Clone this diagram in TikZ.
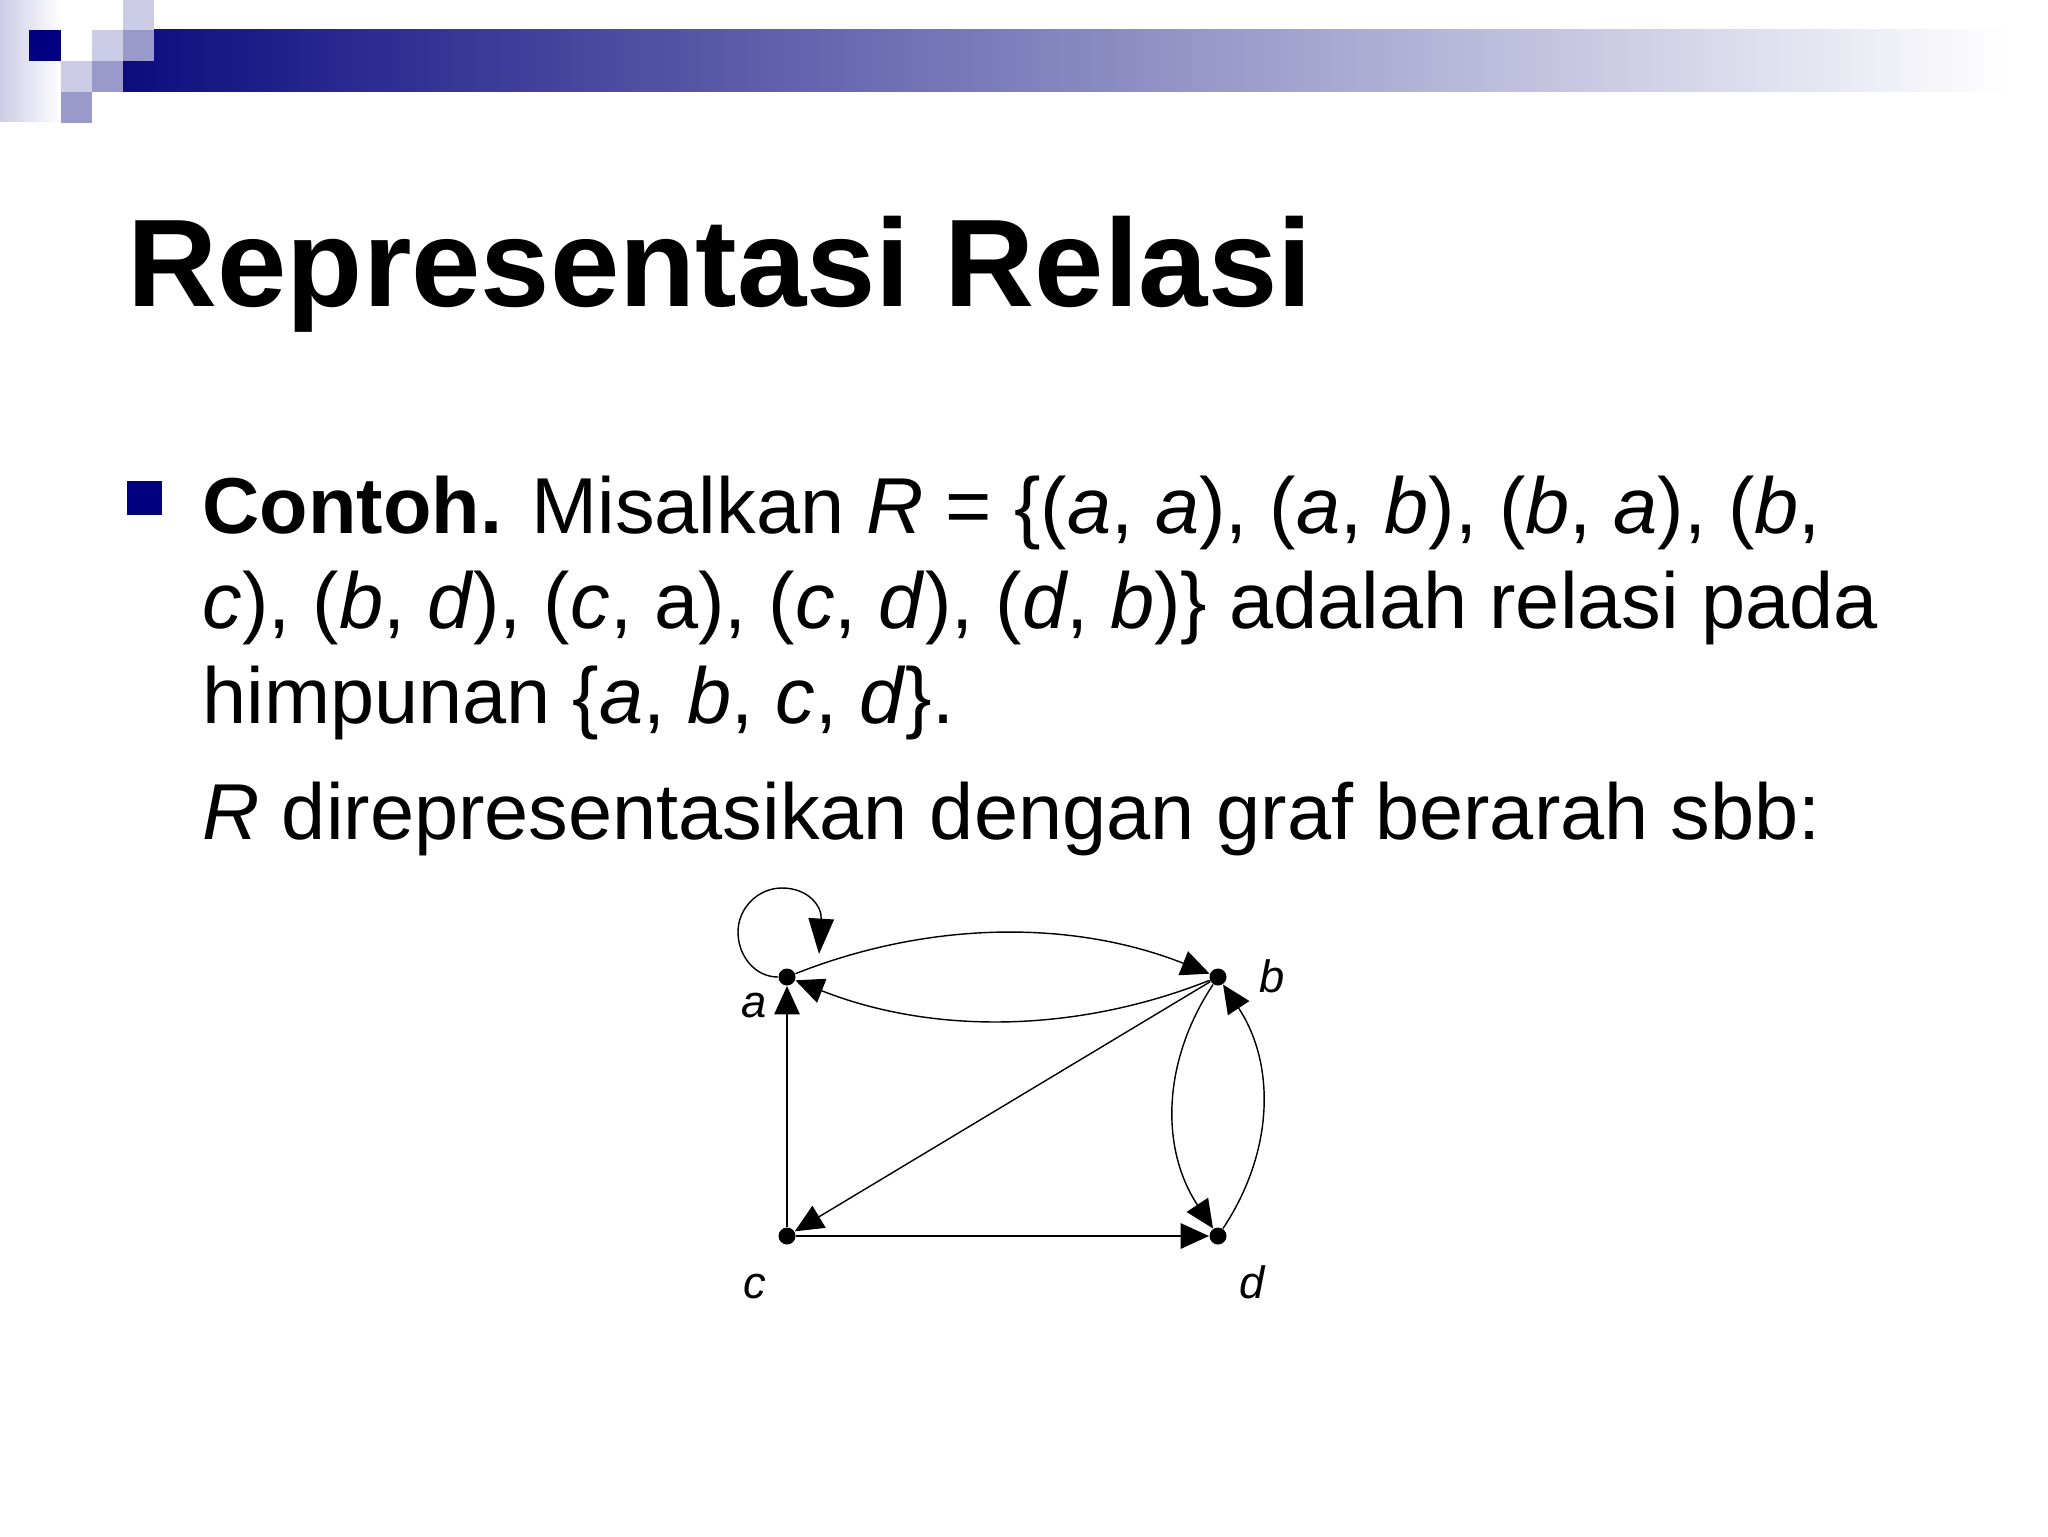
\documentclass[tikz,border=0pt]{standalone}
\usepackage{fontspec}
\setmainfont{Liberation Sans}
\usetikzlibrary{arrows.meta}

\definecolor{slidenavy}{RGB}{0,0,128}
\definecolor{barnavy}{RGB}{12,12,128}
\definecolor{lavlight}{RGB}{204,204,230}
\definecolor{lavmid}{RGB}{153,153,204}

\newcommand{\el}[1]{\textit{#1}}

\tikzset{
  vertex/.style={circle, fill=black, inner sep=0pt, minimum size=6pt},
  edge/.style={-{Triangle[length=10pt, width=9pt]}, line width=0.5pt},
  loopedge/.style={-{Triangle[length=12.5pt, width=9pt]}, line width=0.5pt},
  vlabel/.style={font=\fontsize{16}{19}\selectfont\itshape, inner sep=0pt, anchor=base},
  bodyline/.style={font=\fontsize{28}{33.6}\selectfont, inner sep=0pt, anchor=base west},
}

\begin{document}
\begin{tikzpicture}[x=0.0124023cm, y=-0.0124023cm]
    \path[use as bounding box, fill=white] (0,0) rectangle (2048,1536);
    % header band
    \shade[left color=lavlight, right color=white] (0,0) rectangle (62,122);
    \shade[left color=barnavy, right color=white] (123,30) rectangle (2010,92);
    \fill[slidenavy] (29,30) rectangle (61,61);
    \foreach \x/\y in {123/0, 92/30, 61/61}
      \fill[lavlight] (\x,\y) rectangle ++(31,31);
    \foreach \x/\y in {123/30, 92/61, 61/92}
      \fill[lavmid] (\x,\y) rectangle ++(31,31);

    % title and text
    \node[font=\fontsize{44}{53}\selectfont\bfseries, inner sep=0pt, anchor=base west]
      (title) at (127,306) {Representasi Relasi};
    \fill[slidenavy] (127,481) rectangle (162,515);
    \node[bodyline] (line1) at (202,533) {\textbf{Contoh.} Misalkan \el{R} = \{(\el{a}, \el{a}), (\el{a}, \el{b}), (\el{b}, \el{a}), (\el{b},};
    \node[bodyline] (line2) at (202,628) {\el{c}), (\el{b}, \el{d}), (\el{c}, a), (\el{c}, \el{d}), (\el{d}, \el{b})\} adalah relasi pada};
    \node[bodyline] (line3) at (202,723) {himpunan \{\el{a}, \el{b}, \el{c}, \el{d}\}.};
    \node[bodyline] (line4) at (202,839) {\el{R} direpresentasikan dengan graf berarah sbb:};

    % the digraph
    \node[vertex] (a) at (787,977) {};
    \node[vertex] (b) at (1218,977) {};
    \node[vertex] (c) at (787,1236) {};
    \node[vertex] (d) at (1218,1236) {};
    \node[vlabel] (la) at (754,1017) {a};
    \node[vlabel] (lb) at (1272,992) {b};
    \node[vlabel] (lc) at (755,1298) {c};
    \node[vlabel] (ld) at (1252,1298) {d};
    \coordinate (aloop) at (819,954);
    \draw[loopedge] (a) .. controls (755,977) and (738,956) .. (738,932)
      .. controls (738,908) and (758,888) .. (782,888)
      .. controls (808,888) and (822,906) .. (aloop);
    \draw[edge] (a) .. controls +(144,-57) and +(-144,-57) .. (b);
    \draw[edge] (b) .. controls +(-144,57) and +(144,57) .. (a);
    \draw[edge] (b) .. controls +(-57,86) and +(-57,-86) .. (d);
    \draw[edge] (d) .. controls +(57,-86) and +(57,86) .. (b);
    \path[edge]
    (b) edge (c)
    (c) edge (a)
    (c) edge (d);
  \end{tikzpicture}
\end{document}
